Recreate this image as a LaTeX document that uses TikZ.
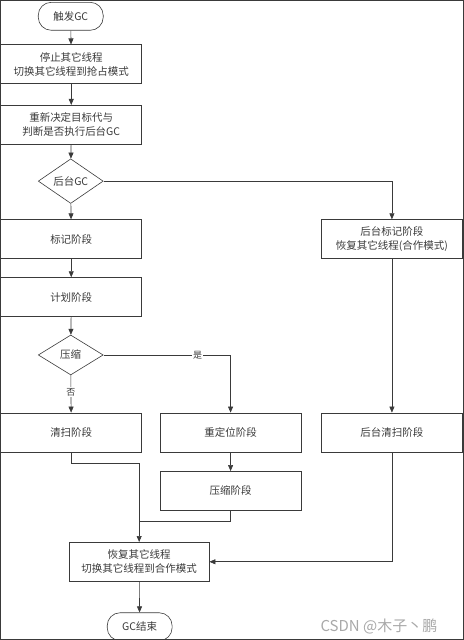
\documentclass[tikz,border=0pt]{standalone}
\usepackage{fontspec}
\setmainfont{Noto Sans CJK SC}
\usetikzlibrary{shapes.geometric, arrows.meta, positioning, calc}
\usepackage{xcolor}
\definecolor{linegray}{HTML}{3A3A3A}
\definecolor{markgray}{HTML}{A8A8A8}

\begin{document}
\begin{tikzpicture}[x=1pt, y=-1pt, font=\fontsize{10.5}{14}\selectfont,
    >={Triangle[length=6pt, width=5pt]},
    every path/.style={draw=linegray, line width=0.6pt},
    stepbox/.style={draw=linegray, rectangle, minimum width=141pt, minimum height=39pt, inner sep=0pt, align=center, text=linegray},
    pill/.style={draw=linegray, rectangle, rounded corners=13pt, minimum width=65pt, minimum height=28pt, inner sep=0pt, text=linegray},
    choice/.style={draw=linegray, diamond, minimum width=65pt, minimum height=40pt, inner sep=0pt, text=linegray},
    tag/.style={fill=white, inner sep=1pt, text=linegray, font=\fontsize{9}{10}\selectfont}]
    \useasboundingbox (0,0) rectangle (463,640);

    % main column
    \node[pill] (start) at (70.5,16) {触发GC};
    \node[stepbox] (stopthr) at (71,64) {停止其它线程\\切换其它线程到抢占模式};
    \node[stepbox] (decide) at (71,124.5) {重新决定目标代与\\判断是否执行后台GC};
    \node[choice] (bggc) at (70.5,181) {后台GC};
    \node[stepbox] (mark) at (71,239) {标记阶段};
    \node[stepbox] (plan) at (71,297) {计划阶段};
    \node[choice] (compq) at (70.5,355) {压缩};
    \node[stepbox] (sweep) at (71,432.5) {清扫阶段};

    % compacting branch
    \node[stepbox] (reloc) at (230.5,432.5) {重定位阶段};
    \node[stepbox] (compact) at (230.5,491) {压缩阶段};

    % background branch
    \node[stepbox] (bgmark) at (392,239) {后台标记阶段\\恢复其它线程(合作模式)};
    \node[stepbox] (bgsweep) at (392,432.5) {后台清扫阶段};

    % end
    \node[stepbox, minimum width=140pt] (resume) at (139,562) {恢复其它线程\\切换其它线程到合作模式};
    \node[pill] (finish) at (139.5,627) {GC结束};
    \coordinate (j1) at (139,463);
    \coordinate (j2) at (139,521);

    \draw[->] (start) -- (stopthr);
    \draw[->] (stopthr) -- (decide);
    \draw[->] (decide) -- (bggc);
    \draw[->] (bggc) -- (mark);
    \draw[->] (bggc) -| (bgmark);
    \draw[->] (mark) -- (plan);
    \draw[->] (plan) -- (compq);
    \draw[->] (compq) -- node[tag, pos=0.45] {否} (sweep);
    \draw[->] (compq) -| node[tag, pos=0.37] {是} (reloc);
    \draw[->] (reloc) -- (compact);
    \draw[->] (bgmark) -- (bgsweep);
    \draw[->] (sweep) |- (j1) -- (resume);
    \draw (compact) |- (j2);
    \draw[->] (bgsweep) |- (resume);
    \draw[->] (resume) -- (finish);

    \node[text=markgray, font=\fontsize{15}{16}\selectfont] (credit) at (379,627) {CSDN @木子丶鹏};
\end{tikzpicture}
\end{document}
